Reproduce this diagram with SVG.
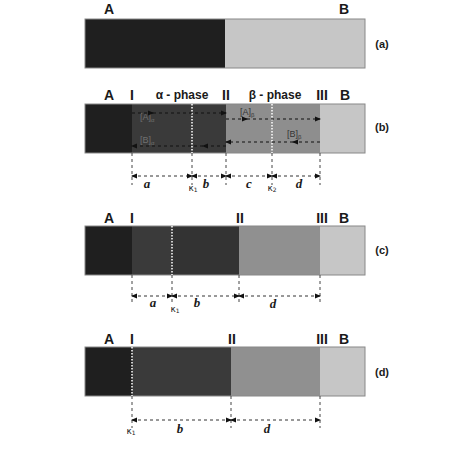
<svg xmlns="http://www.w3.org/2000/svg" width="474" height="453" viewBox="0 0 474 453">
<style>
.lbl{font-family:"Liberation Sans",Arial,sans-serif;font-weight:bold;font-size:14px;fill:#1a1a1a;text-anchor:middle}
.ph{font-family:"Liberation Sans",Arial,sans-serif;font-weight:bold;font-size:12px;fill:#1a1a1a;text-anchor:middle}
.pn{font-family:"Liberation Sans",Arial,sans-serif;font-weight:bold;font-size:11px;fill:#1a1a1a;text-anchor:middle}
.dim{font-family:"Liberation Serif","Times New Roman",serif;font-weight:bold;font-style:italic;font-size:13px;fill:#1a1a1a;text-anchor:middle}
.k{font-family:"DejaVu Sans",sans-serif;font-size:9px;fill:#1a1a1a;text-anchor:middle}
.in{font-family:"Liberation Sans",Arial,sans-serif;font-size:9px}
.ina{fill:#707070}.inb{fill:#333}
.ext{stroke:#444;stroke-width:1;stroke-dasharray:3,3;fill:none}
.dl{stroke:#333;stroke-width:1;stroke-dasharray:3,3;fill:none}
.fl{stroke:#111;stroke-width:1;stroke-dasharray:3,3;fill:none}
.dot{stroke:#fff;stroke-width:1.5;stroke-dasharray:1.5,1.5}
.c1{fill:#1f1f1f}.c2{fill:#3a3a3a}.c2b{fill:#333}.c3{fill:#8e8e8e}.c4{fill:#c6c6c6}.c3b{fill:#909090}
.edge{fill:none;stroke:#888;stroke-width:1}
</style>
<defs>
<marker id="ah" markerWidth="6" markerHeight="6" refX="5" refY="3" orient="auto-start-reverse" markerUnits="userSpaceOnUse">
<path d="M0,0.5 L6,3 L0,5.5 Z" fill="#111"/>
</marker>
</defs>

<g id="panel-a">
<rect x="85" y="19" width="140" height="49" class="c1"/>
<rect x="225" y="19" width="140" height="49" class="c4"/>
<rect x="85" y="19" width="280" height="49" class="edge"/>
<text x="109" y="14" class="lbl">A</text>
<text x="344" y="14" class="lbl">B</text>
<text x="382" y="48" class="pn">(a)</text>
</g>

<g id="panel-b">
<rect x="85" y="104" width="47" height="49" class="c1"/>
<rect x="132" y="104" width="94" height="49" class="c2"/>
<rect x="226" y="104" width="94" height="49" class="c3"/>
<rect x="320" y="104" width="45" height="49" class="c4"/>
<rect x="85" y="104" width="280" height="49" class="edge"/>
<line x1="192" y1="104" x2="192" y2="153" class="dot"/>
<line x1="272" y1="104" x2="272" y2="153" class="dot"/>
<text x="109" y="100" class="lbl">A</text>
<text x="132" y="100" class="lbl">I</text>
<text x="182" y="99" class="ph">α - phase</text>
<text x="226" y="100" class="lbl">II</text>
<text x="275" y="99" class="ph">β - phase</text>
<text x="322" y="100" class="lbl">III</text>
<text x="345" y="100" class="lbl">B</text>
<text x="382" y="131" class="pn">(b)</text>
<text x="140" y="120" class="in ina">[A]<tspan font-size="6" dy="2">α</tspan></text>
<text x="140" y="143" class="in ina">[B]<tspan font-size="6" dy="2">α</tspan></text>
<text x="240" y="115" class="in inb">[A]<tspan font-size="6" dy="2">β</tspan></text>
<text x="287" y="137" class="in inb">[B]<tspan font-size="6" dy="2">β</tspan></text>
<text x="147" y="188" class="dim">a</text>
<text x="193" y="191" class="k">κ<tspan font-size="6" dy="1">1</tspan></text>
<text x="206" y="188" class="dim">b</text>
<text x="249" y="188" class="dim">c</text>
<text x="272" y="191" class="k">κ<tspan font-size="6" dy="1">2</tspan></text>
<text x="299" y="188" class="dim">d</text>
</g>

<g id="panel-c">
<rect x="85" y="226" width="47" height="49" class="c1"/>
<rect x="132" y="226" width="40" height="49" class="c2"/>
<rect x="172" y="226" width="67" height="49" class="c2b"/>
<rect x="239" y="226" width="81" height="49" class="c3b"/>
<rect x="320" y="226" width="45" height="49" class="c4"/>
<rect x="85" y="226" width="280" height="49" class="edge"/>
<line x1="172" y1="226" x2="172" y2="275" class="dot"/>
<text x="109" y="223" class="lbl">A</text>
<text x="132" y="223" class="lbl">I</text>
<text x="240" y="223" class="lbl">II</text>
<text x="322" y="223" class="lbl">III</text>
<text x="344" y="223" class="lbl">B</text>
<text x="382" y="254" class="pn">(c)</text>
<text x="153" y="307" class="dim">a</text>
<text x="175" y="312" class="k">κ<tspan font-size="6" dy="1">1</tspan></text>
<text x="197" y="307" class="dim">b</text>
<text x="273" y="308" class="dim">d</text>
</g>

<g id="panel-d">
<rect x="85" y="347" width="47" height="49" class="c1"/>
<rect x="132" y="347" width="99" height="49" class="c2"/>
<rect x="231" y="347" width="89" height="49" class="c3b"/>
<rect x="320" y="347" width="45" height="49" class="c4"/>
<rect x="85" y="347" width="280" height="49" class="edge"/>
<line x1="132" y1="347" x2="132" y2="396" class="dot"/>
<text x="109" y="344" class="lbl">A</text>
<text x="132" y="344" class="lbl">I</text>
<text x="232" y="344" class="lbl">II</text>
<text x="322" y="344" class="lbl">III</text>
<text x="344" y="344" class="lbl">B</text>
<text x="382" y="376" class="pn">(d)</text>
<text x="131" y="434" class="k">κ<tspan font-size="6" dy="1">1</tspan></text>
<text x="180" y="433" class="dim">b</text>
<text x="267" y="433" class="dim">d</text>
</g>

<g id="connectors">
<line x1="132" y1="113" x2="153" y2="113" class="fl" marker-end="url(#ah)"/>
<line x1="153" y1="113" x2="226" y2="113" class="fl" marker-end="url(#ah)"/>
<line x1="226" y1="146" x2="203" y2="146" class="fl" marker-end="url(#ah)"/>
<line x1="203" y1="146" x2="132" y2="146" class="fl" marker-end="url(#ah)"/>
<line x1="226" y1="119" x2="247" y2="119" class="fl" marker-end="url(#ah)"/>
<line x1="247" y1="119" x2="320" y2="119" class="fl" marker-end="url(#ah)"/>
<line x1="320" y1="142" x2="293" y2="142" class="fl" marker-end="url(#ah)"/>
<line x1="293" y1="142" x2="226" y2="142" class="fl" marker-end="url(#ah)"/>
<line x1="132" y1="153" x2="132" y2="185" class="ext"/>
<line x1="192" y1="153" x2="192" y2="185" class="ext"/>
<line x1="226" y1="153" x2="226" y2="185" class="ext"/>
<line x1="272" y1="153" x2="272" y2="185" class="ext"/>
<line x1="320" y1="153" x2="320" y2="185" class="ext"/>
<line x1="132" y1="176" x2="192" y2="176" class="dl" marker-start="url(#ah)" marker-end="url(#ah)"/>
<line x1="192" y1="176" x2="226" y2="176" class="dl" marker-start="url(#ah)" marker-end="url(#ah)"/>
<line x1="226" y1="176" x2="272" y2="176" class="dl" marker-start="url(#ah)" marker-end="url(#ah)"/>
<line x1="272" y1="176" x2="320" y2="176" class="dl" marker-start="url(#ah)" marker-end="url(#ah)"/>
<line x1="132" y1="275" x2="132" y2="305" class="ext"/>
<line x1="172" y1="275" x2="172" y2="305" class="ext"/>
<line x1="239" y1="275" x2="239" y2="305" class="ext"/>
<line x1="320" y1="275" x2="320" y2="305" class="ext"/>
<line x1="132" y1="296" x2="172" y2="296" class="dl" marker-start="url(#ah)" marker-end="url(#ah)"/>
<line x1="172" y1="296" x2="239" y2="296" class="dl" marker-start="url(#ah)" marker-end="url(#ah)"/>
<line x1="239" y1="296" x2="320" y2="296" class="dl" marker-start="url(#ah)" marker-end="url(#ah)"/>
<line x1="132" y1="396" x2="132" y2="428" class="ext"/>
<line x1="231" y1="396" x2="231" y2="428" class="ext"/>
<line x1="320" y1="396" x2="320" y2="428" class="ext"/>
<line x1="132" y1="420" x2="231" y2="420" class="dl" marker-start="url(#ah)" marker-end="url(#ah)"/>
<line x1="231" y1="420" x2="320" y2="420" class="dl" marker-start="url(#ah)" marker-end="url(#ah)"/>
</g>
</svg>
